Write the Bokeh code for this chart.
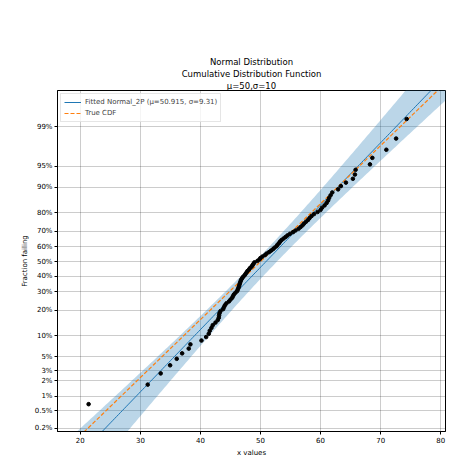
from statistics import NormalDist
import numpy as np
from bokeh.plotting import figure
from bokeh.models import FixedTicker, Title, Legend, LegendItem, Range1d
from bokeh.embed import file_html
from bokeh.resources import INLINE

# ---- data ----
x_values = [
    21.38, 31.22, 33.38, 34.95, 36.05, 36.95, 38.05, 38.33, 40.17, 40.95,
    41.38, 41.55, 41.83, 42.05, 42.50, 42.88, 43.05, 43.10, 43.17, 43.33,
    43.78, 43.92, 44.08, 44.33, 44.75, 45.00, 45.28, 45.42, 45.58, 45.83,
    46.12, 46.22, 46.33, 46.42, 46.50, 46.58, 46.67, 46.75, 46.92, 47.08,
    47.33, 47.50, 47.67, 47.83, 48.08, 48.25, 48.50, 48.67, 48.83, 49.00,
    49.50, 49.83, 50.00, 50.33, 50.75, 51.00, 51.42, 51.75, 52.08, 52.33,
    52.67, 52.83, 53.08, 53.25, 53.50, 53.83, 54.17, 54.50, 54.92, 55.42,
    55.83, 56.33, 56.67, 57.00, 57.25, 57.58, 57.92, 58.17, 58.50, 58.92,
    59.50, 60.00, 60.25, 60.67, 61.00, 61.25, 61.42, 61.67, 61.95, 62.92,
    63.38, 64.22, 65.38, 65.72, 65.83, 68.22, 68.62, 70.95, 72.58, 74.33,
]
fit_mu = 50.915
fit_sigma = 9.31
true_mu = 50
true_sigma = 10
ci_level = 0.95
x_ticks = [20, 30, 40, 50, 60, 70, 80]
y_tick_fracs = [0.002, 0.005, 0.01, 0.02, 0.03, 0.05, 0.1, 0.2, 0.3, 0.4,
                0.5, 0.6, 0.7, 0.8, 0.9, 0.95, 0.99]
y_tick_labels = ["0.2%", "0.5%", "1%", "2%", "3%", "5%", "10%", "20%", "30%",
                 "40%", "50%", "60%", "70%", "80%", "90%", "95%", "99%"]
title_lines = ["Normal Distribution", "Cumulative Distribution Function", "μ=50,σ=10"]
x_label = "x values"
y_label = "Fraction failing"

FONT = "DejaVu Sans"
nd = NormalDist()

# probability-paper transform (median-rank plotting positions)
n = len(x_values)
z_points = [nd.inv_cdf((i - 0.3) / (n + 0.4)) for i in range(1, n + 1)]
z_ticks = [nd.inv_cdf(f) for f in y_tick_fracs]

zz = np.linspace(-3.3, 3.3, 200)
fit_x = fit_mu + fit_sigma * zz
true_x = true_mu + true_sigma * zz
zc = nd.inv_cdf(0.5 + ci_level / 2)
half = zc * fit_sigma / np.sqrt(n) * np.sqrt(1 + zz ** 2 / 2)

p = figure(frame_width=388, frame_height=341,
           min_border_left=57, min_border_right=13,
           min_border_top=90, min_border_bottom=35,
           x_range=Range1d(16.2, 80.8), y_range=Range1d(-2.93, 2.95),
           output_backend="svg", toolbar_location=None, title_location=None)
p.background_fill_color = "white"
p.border_fill_color = "white"
p.outline_line_color = "black"
p.outline_line_width = 1

p.harea(y=zz, x1=fit_x - half, x2=fit_x + half, fill_color="#1f77b4", fill_alpha=0.3)
fit_r = p.line(fit_x, zz, line_color="#1f77b4", line_width=1)
true_r = p.line(true_x, zz, line_color="#ff7f0e", line_width=1.2, line_dash="4 2")
p.scatter(x_values, z_points, size=3.6, color="black")

# axes
p.xaxis.ticker = FixedTicker(ticks=x_ticks)
p.xgrid.ticker = FixedTicker(ticks=x_ticks)
p.yaxis.ticker = FixedTicker(ticks=z_ticks)
p.ygrid.ticker = FixedTicker(ticks=z_ticks)
p.yaxis.major_label_overrides = {z: lab for z, lab in zip(z_ticks, y_tick_labels)}
p.xaxis.axis_label = x_label
p.yaxis.axis_label = y_label
for ax in (p.xaxis, p.yaxis):
    ax.major_label_text_font = FONT
    ax.major_label_text_font_size = "7px"
    ax.major_label_text_color = "black"
    ax.axis_label_text_font = FONT
    ax.axis_label_text_font_size = "7px"
    ax.axis_label_text_font_style = "normal"
    ax.axis_label_text_color = "black"
    ax.axis_line_color = "black"
    ax.major_tick_line_color = "black"
    ax.major_tick_out = 3
    ax.major_tick_in = 0
    ax.minor_tick_line_color = None
    ax.major_label_standoff = 2
    ax.axis_label_standoff = 3
for g in (p.xgrid, p.ygrid):
    g.grid_line_color = "black"
    g.grid_line_alpha = 0.2
    g.grid_line_width = 1

# titles (first added is closest to the frame)
for line in reversed(title_lines):
    p.add_layout(Title(text=line, align="center", text_font=FONT,
                       text_font_size="8.5px", text_font_style="normal",
                       text_color="black", standoff=0), "above")

legend = Legend(items=[
    LegendItem(label=f"Fitted Normal_2P (μ={fit_mu}, σ={fit_sigma})", renderers=[fit_r]),
    LegendItem(label="True CDF", renderers=[true_r]),
], location="top_left")
legend.label_text_font = FONT
legend.label_text_font_size = "7px"
legend.label_height = 10
legend.glyph_height = 10
legend.glyph_width = 17
legend.label_standoff = 4
legend.padding = 3
legend.spacing = 1
legend.margin = 3
legend.border_line_color = "#cccccc"
legend.background_fill_alpha = 0.8
p.add_layout(legend)

open("out.html", "w").write(file_html(p, INLINE))
